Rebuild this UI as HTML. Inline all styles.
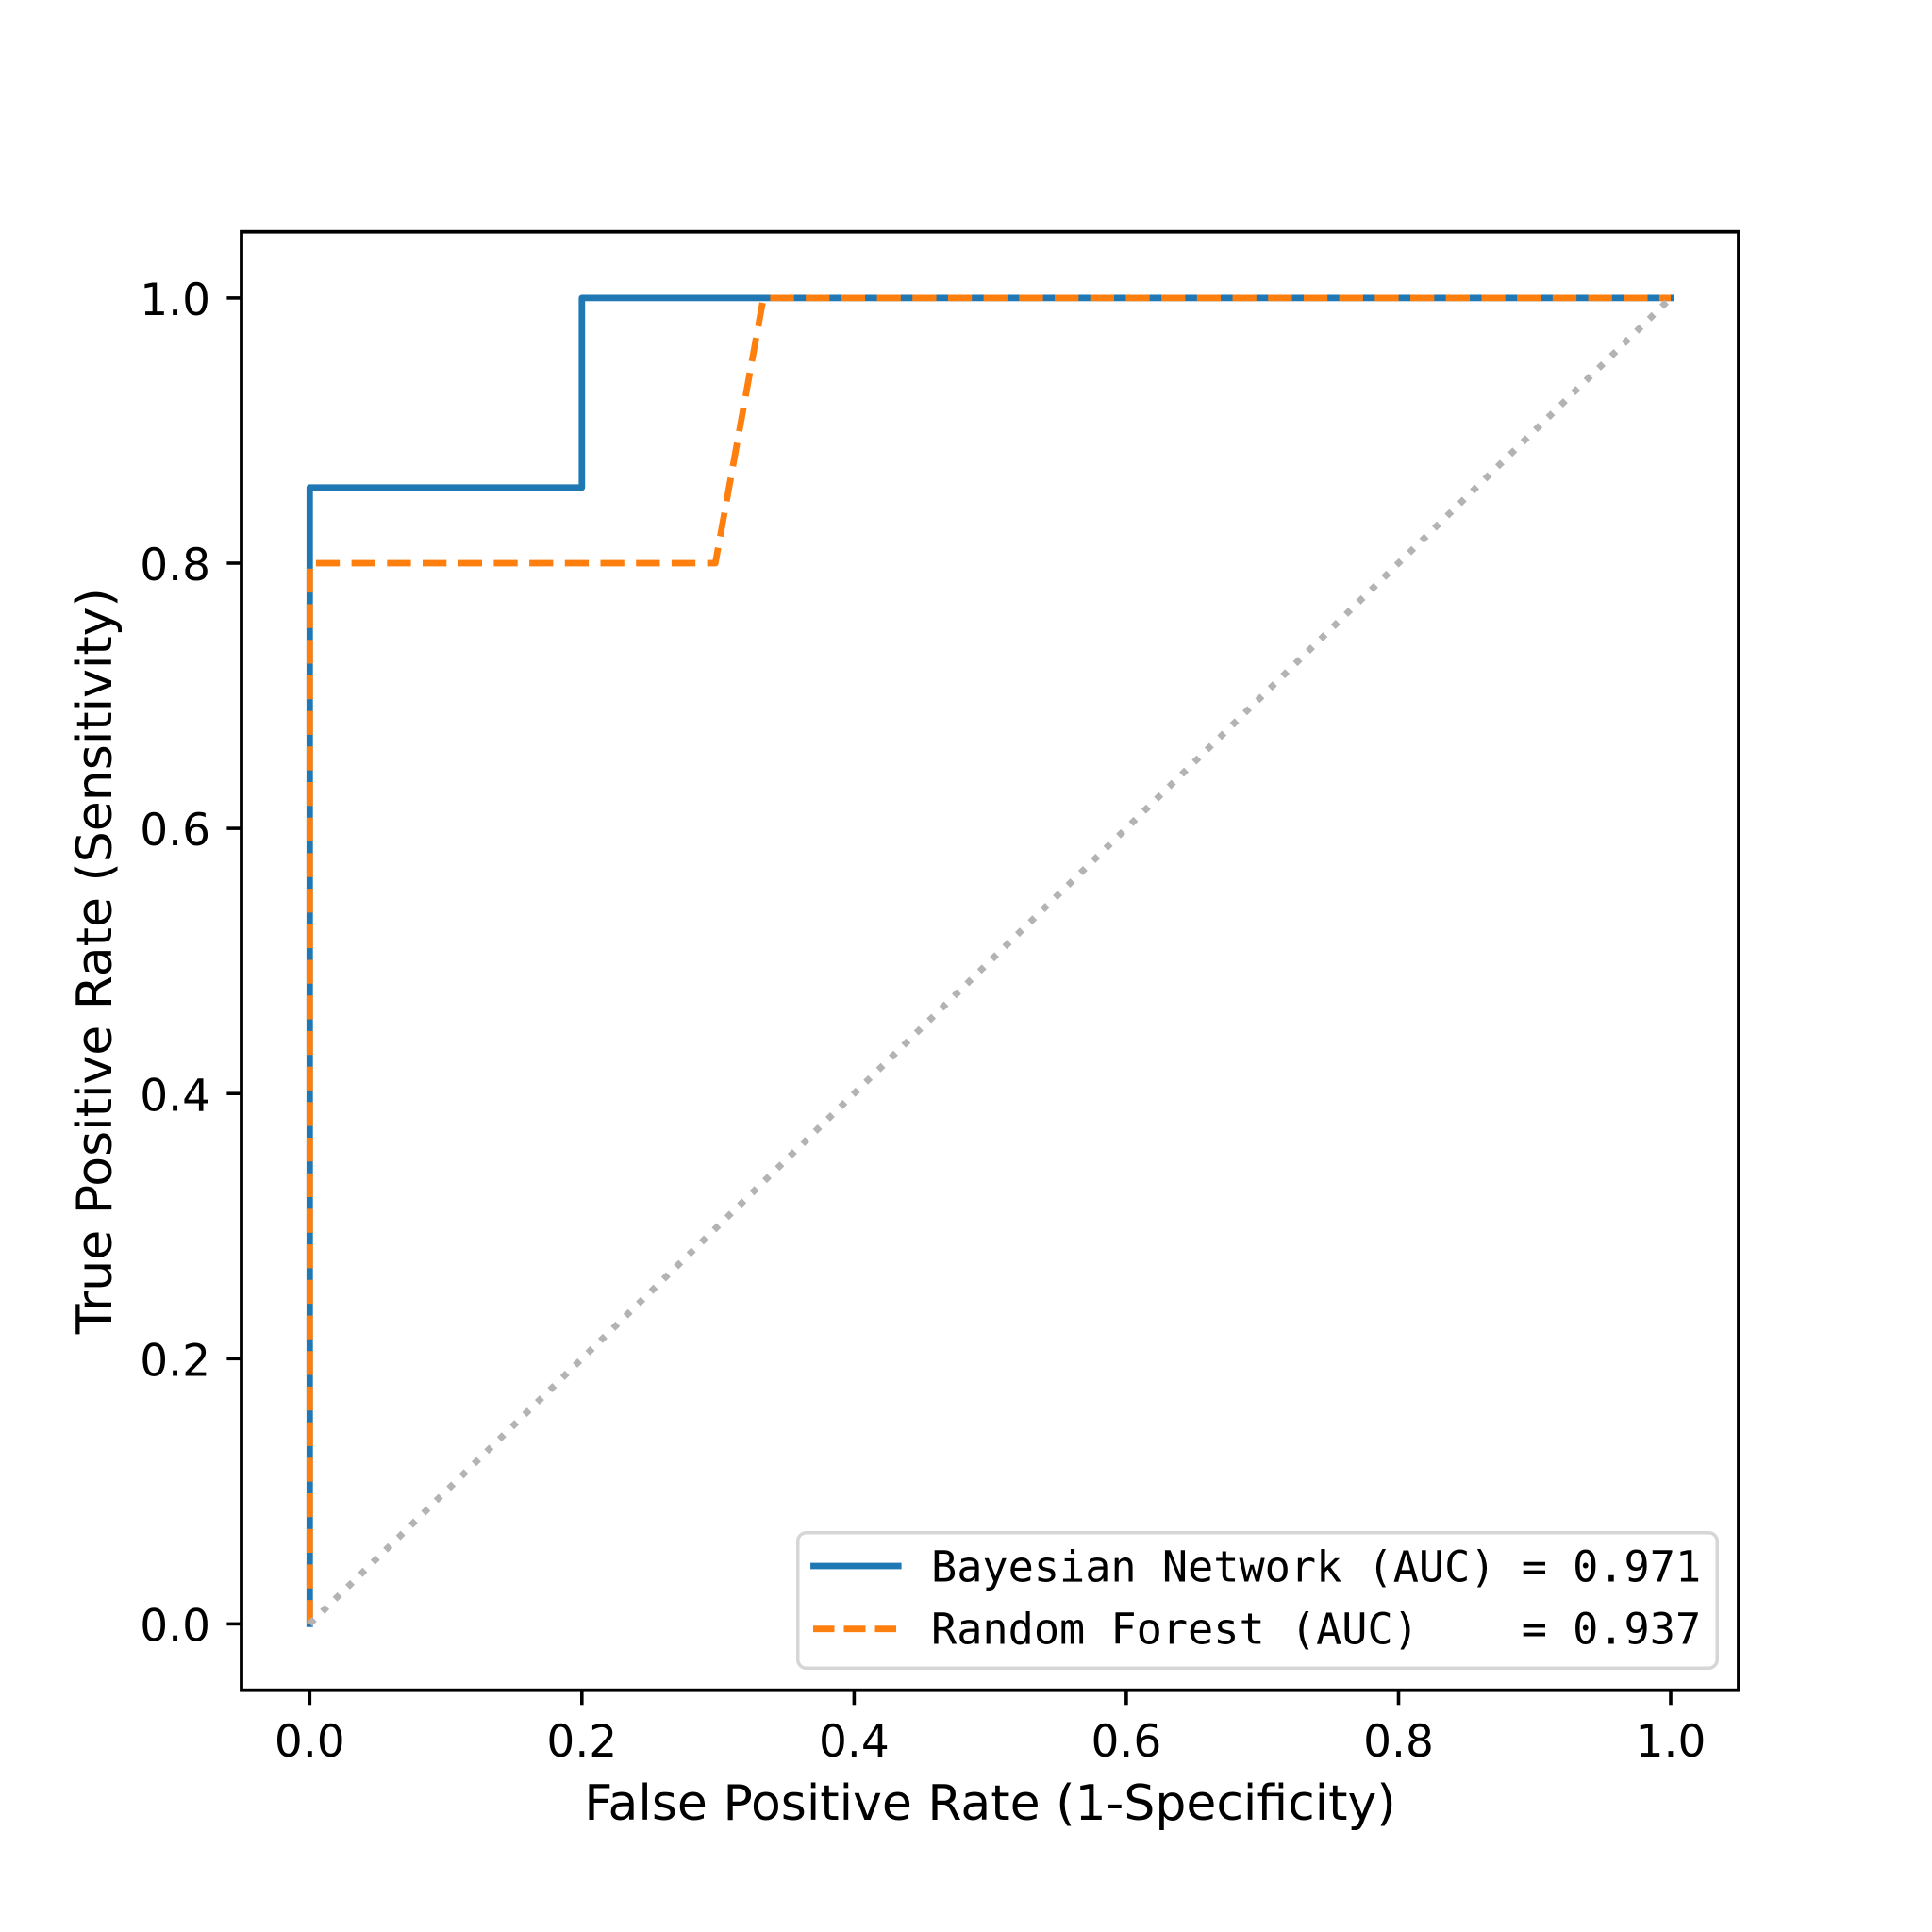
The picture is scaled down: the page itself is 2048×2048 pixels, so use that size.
<!DOCTYPE html>
<html>
<head>
<meta charset="utf-8">
<style>
  html, body { margin: 0; padding: 0; background: #ffffff; }
  body { width: 2048px; height: 2048px; overflow: hidden; }
  svg { display: block; }
  .tick { font-family: "DejaVu Sans", "Liberation Sans", sans-serif; font-size: 47px; fill: #000; }
  .lab { font-family: "DejaVu Sans", "Liberation Sans", sans-serif; font-size: 52px; fill: #000; }
  .leg { font-family: "DejaVu Sans Mono", "Liberation Mono", monospace; font-size: 45.2px; fill: #000; white-space: pre; }
</style>
</head>
<body>
<svg width="2048" height="2048" viewBox="0 0 2048 2048" xmlns="http://www.w3.org/2000/svg">
  <rect x="0" y="0" width="2048" height="2048" fill="#ffffff"/>

  <!-- Series -->
  <path d="M328.3,1721.4 V516.8 H616.8 V315.9 H1771.0" fill="none" stroke="#1f77b4" stroke-width="6.8" stroke-linecap="square" stroke-linejoin="round"/>
  <path d="M328.3,1721.4 V597.0 H758.3 L809.2,315.9 H1771.0" fill="none" stroke="#ff7f0e" stroke-width="6.8" stroke-dasharray="25.3 12.4" stroke-linecap="butt" stroke-linejoin="round"/>
  <path d="M328.3,1721.4 L1771.0,315.9" fill="none" stroke="#b3b3b3" stroke-width="7" stroke-dasharray="7 11.7" stroke-linecap="butt"/>

  <!-- Legend -->
  <rect x="845.75" y="1624.75" width="974.5" height="143.5" rx="9" ry="9" fill="#ffffff" fill-opacity="0.8" stroke="#d6d6d6" stroke-width="3.5"/>
  <line x1="862.5" y1="1660" x2="952.2" y2="1660" stroke="#1f77b4" stroke-width="6.8" stroke-linecap="square"/>
  <line x1="862" y1="1726.7" x2="884.5" y2="1726.7" stroke="#ff7f0e" stroke-width="6.8"/>
  <line x1="894.5" y1="1726.7" x2="917.5" y2="1726.7" stroke="#ff7f0e" stroke-width="6.8"/>
  <line x1="927.5" y1="1726.7" x2="950" y2="1726.7" stroke="#ff7f0e" stroke-width="6.8"/>
  <text class="leg" x="987" y="1676.5" xml:space="preserve">Bayesian Network (AUC) = 0.971</text>
  <text class="leg" x="987" y="1742.5" xml:space="preserve">Random Forest (AUC)    = 0.937</text>

  <!-- Spines -->
  <rect x="256" y="245.7" width="1587" height="1546" fill="none" stroke="#000000" stroke-width="3.8" stroke-linejoin="miter"/>

  <!-- X ticks -->
  <g stroke="#000" stroke-width="3.6">
    <line x1="328.3" y1="1791.7" x2="328.3" y2="1807.3"/>
    <line x1="616.8" y1="1791.7" x2="616.8" y2="1807.3"/>
    <line x1="905.4" y1="1791.7" x2="905.4" y2="1807.3"/>
    <line x1="1193.9" y1="1791.7" x2="1193.9" y2="1807.3"/>
    <line x1="1482.5" y1="1791.7" x2="1482.5" y2="1807.3"/>
    <line x1="1771.0" y1="1791.7" x2="1771.0" y2="1807.3"/>
  </g>
  <g class="tick" text-anchor="middle">
    <text x="328.3" y="1862">0.0</text>
    <text x="616.8" y="1862">0.2</text>
    <text x="905.4" y="1862">0.4</text>
    <text x="1193.9" y="1862">0.6</text>
    <text x="1482.5" y="1862">0.8</text>
    <text x="1771.0" y="1862">1.0</text>
  </g>

  <!-- Y ticks -->
  <g stroke="#000" stroke-width="3.6">
    <line x1="240.4" y1="1721.4" x2="256" y2="1721.4"/>
    <line x1="240.4" y1="1440.3" x2="256" y2="1440.3"/>
    <line x1="240.4" y1="1159.2" x2="256" y2="1159.2"/>
    <line x1="240.4" y1="878.1" x2="256" y2="878.1"/>
    <line x1="240.4" y1="597.0" x2="256" y2="597.0"/>
    <line x1="240.4" y1="315.9" x2="256" y2="315.9"/>
  </g>
  <g class="tick" text-anchor="end">
    <text x="223" y="1739.5">0.0</text>
    <text x="223" y="1458.4">0.2</text>
    <text x="223" y="1177.3">0.4</text>
    <text x="223" y="896.2">0.6</text>
    <text x="223" y="615.1">0.8</text>
    <text x="223" y="334.0">1.0</text>
  </g>

  <!-- Axis labels -->
  <text class="lab" x="1049.5" y="1929" text-anchor="middle">False Positive Rate (1-Specificity)</text>
  <text class="lab" x="0" y="0" text-anchor="middle" transform="translate(118,1018.7) rotate(-90)">True Positive Rate (Sensitivity)</text>
</svg>
</body>
</html>
